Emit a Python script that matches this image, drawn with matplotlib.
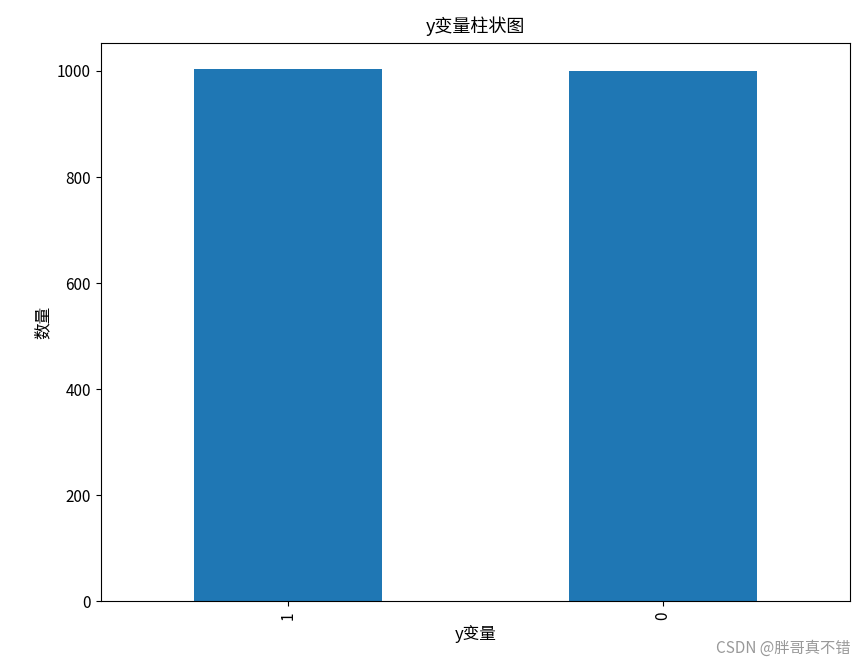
import numpy as np
import matplotlib
matplotlib.use('Agg')
import matplotlib.pyplot as plt

plt.rcParams['font.family'] = ['Noto Sans CJK SC', 'DejaVu Sans']
plt.rcParams['axes.unicode_minus'] = False

# y变量的计数
kategorien = ['1', '0']
anzahl = [1003, 1000]

fig = plt.figure(figsize=(8.65, 6.69), dpi=100)
ax = fig.add_axes([0.1164, 0.1009, 0.8666, 0.8353])

x = np.arange(len(kategorien))
ax.bar(x, anzahl, width=0.5, color='#1f77b4')
ax.set_xlim(-0.5, len(kategorien) - 0.5)
ax.set_ylim(0, max(anzahl) * 1.05)
ax.set_xticks(x)
ax.set_xticklabels(kategorien, rotation=90)
ax.tick_params(labelsize=11)

ax.set_title('y变量柱状图', fontsize=13, pad=8)
ax.set_xlabel('y变量', fontsize=12)
ax.set_ylabel('数量', fontsize=12)

fig.text(0.983, 0.018, 'CSDN @胖哥真不错', ha='right', va='bottom',
         fontsize=11, color='#999999')

plt.savefig('out.png', dpi=100)
